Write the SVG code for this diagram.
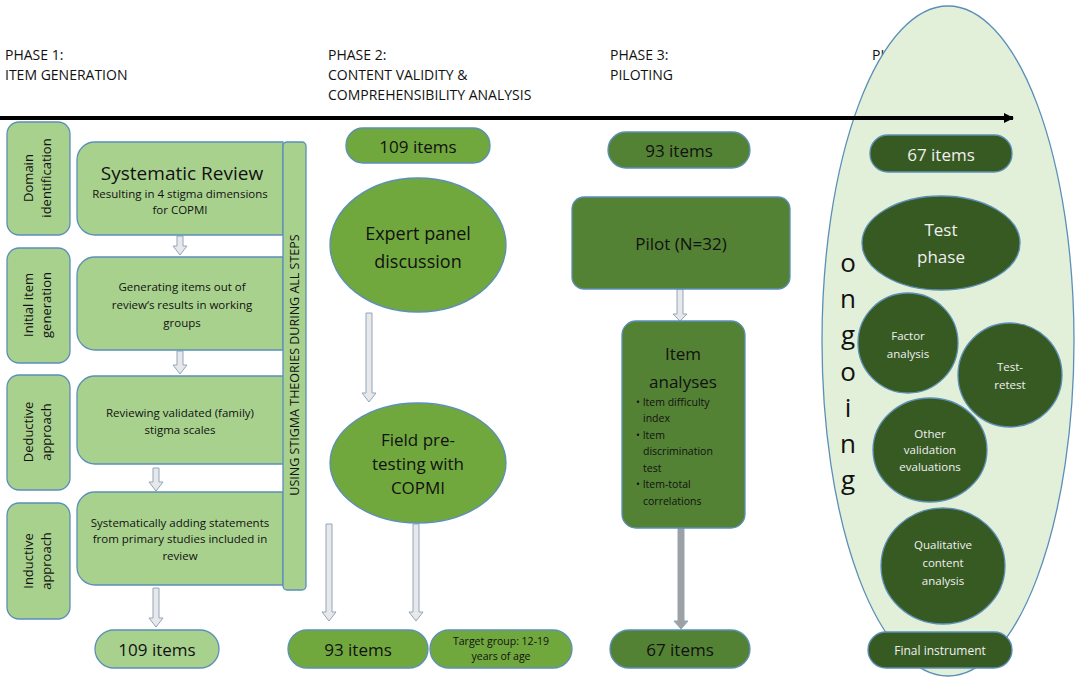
<svg xmlns="http://www.w3.org/2000/svg" width="1084" height="678" viewBox="0 0 1084 678">
<defs>
<marker id="ah" markerWidth="10" markerHeight="10" refX="9" refY="5" orient="auto" markerUnits="userSpaceOnUse"><path d="M0,0 L10,5 L0,10 Z" fill="#000"/></marker>
<marker id="ha" markerWidth="12" markerHeight="8" refX="6" refY="7" orient="auto" markerUnits="userSpaceOnUse"></marker>
</defs>
<style>
text{font-family:"Open Sans","DejaVu Sans",sans-serif;text-anchor:middle}
.ph{font-size:14px;text-anchor:start;fill:#111}
.l1{fill:#a9d18e;stroke:#5b8fb9;stroke-width:1.3}
.m{fill:#70a83e;stroke:#5b8fb9;stroke-width:1.3}
.p{fill:#548235;stroke:#5b8fb9;stroke-width:1.3}
.d{fill:#375a23;stroke:#5b8fb9;stroke-width:1.3}
.t{fill:#111}
.w{fill:#f0f0f0}
.ha{fill:#e8e8e8;stroke:#8ea7c0;stroke-width:1}
</style>
<rect width="1084" height="678" fill="#fff"/>
<text class="ph" x="5" y="60">PHASE 1:</text><text class="ph" x="5" y="80">ITEM GENERATION</text>
<text class="ph" x="328" y="60">PHASE 2:</text><text class="ph" x="328" y="80">CONTENT VALIDITY &amp;</text><text class="ph" x="328" y="100">COMPREHENSIBILITY ANALYSIS</text>
<text class="ph" x="610" y="60">PHASE 3:</text><text class="ph" x="610" y="80">PILOTING</text>
<text class="ph" x="872" y="60">PHASE 4:</text><text class="ph" x="872" y="80">SCALE EVALUATION</text>
<g id="phase4-area"><ellipse cx="948" cy="341" rx="126" ry="335" fill="#e2f0d9" stroke="#5b8fb9" stroke-width="1.3"/></g>
<g id="connectors">
<line x1="0" y1="118" x2="1013" y2="118" stroke="#000" stroke-width="4" marker-end="url(#ah)"/>
<path class="ha" d="M177,236 h6 v10 h4 l-7,9 l-7,-9 h4 Z"/>
<path class="ha" d="M177,351 h6 v14 h4 l-7,9 l-7,-9 h4 Z"/>
<path class="ha" d="M153,468 h6 v14 h4 l-7,9 l-7,-9 h4 Z"/>
<path class="ha" d="M153,588 h6 v30 h4 l-7,9 l-7,-9 h4 Z"/>
<path class="ha" d="M366,313 h6 v80 h4 l-7,9 l-7,-9 h4 Z"/>
<path class="ha" d="M326,524 h6 v88 h4 l-7,9 l-7,-9 h4 Z"/>
<path class="ha" d="M413,524 h6 v88 h4 l-7,9 l-7,-9 h4 Z"/>
<path class="ha" d="M677,289 h6 v25 h4 l-7,7 l-7,-7 h4 Z"/>
<path class="ha" d="M678,528 h6 v93 h4 l-7,8 l-7,-8 h4 Z" style="fill:#a0a0a0"/>
</g>
<g id="labels">
<rect class="l1" x="7" y="122" width="63" height="113" rx="12"/><text class="t" font-size="13" transform="translate(33,178) rotate(-90)">Domain</text><text class="t" font-size="13" transform="translate(51,178) rotate(-90)">identification</text>
<rect class="l1" x="7" y="248" width="63" height="115" rx="12"/><text class="t" font-size="13" transform="translate(33,305) rotate(-90)">Initial item</text><text class="t" font-size="13" transform="translate(51,305) rotate(-90)">generation</text>
<rect class="l1" x="7" y="375" width="63" height="115" rx="12"/><text class="t" font-size="13" transform="translate(33,432) rotate(-90)">Deductive</text><text class="t" font-size="13" transform="translate(51,432) rotate(-90)">approach</text>
<rect class="l1" x="7" y="503" width="63" height="116" rx="12"/><text class="t" font-size="13" transform="translate(33,561) rotate(-90)">Inductive</text><text class="t" font-size="13" transform="translate(51,561) rotate(-90)">approach</text>
</g>
<g id="sysreview"><path class="l1" d="M95,142 H283 V235 H95 A18,18 0 0 1 77,217 V160 A18,18 0 0 1 95,142 Z"/>
<text class="t" x="182" y="180" font-size="19">Systematic Review</text><text class="t" x="180" y="198" font-size="11.5">Resulting in 4 stigma dimensions</text><text class="t" x="180" y="214" font-size="11.5">for COPMI</text></g>
<g id="generating"><path class="l1" d="M95,257 H283 V350 H95 A18,18 0 0 1 77,332 V275 A18,18 0 0 1 95,257 Z"/>
<text class="t" x="182" y="291" font-size="11.5">Generating items out of</text><text class="t" x="182" y="309" font-size="11.5">review‘s results in working</text><text class="t" x="182" y="327" font-size="11.5">groups</text></g>
<g id="reviewing"><path class="l1" d="M85,380 H283 V468 H85 A18,18 0 0 1 67,450 V398 A18,18 0 0 1 85,380 Z" transform="translate(10,-4)"/>
<text class="t" x="180" y="417" font-size="11.5">Reviewing validated (family)</text><text class="t" x="180" y="434" font-size="11.5">stigma scales</text></g>
<g id="systematically"><path class="l1" d="M95,492 H283 V585 H95 A18,18 0 0 1 77,567 V510 A18,18 0 0 1 95,492 Z"/>
<text class="t" x="180" y="527" font-size="11.5">Systematically adding statements</text><text class="t" x="180" y="543" font-size="11.5">from primary studies included in</text><text class="t" x="180" y="560" font-size="11.5">review</text></g>
<g id="theories"><rect class="l1" x="283" y="142" width="23" height="448" rx="4"/><text class="t" font-size="12.5" transform="translate(299,365) rotate(-90)">USING STIGMA THEORIES DURING  ALL STEPS</text></g>
<g id="p1-109"><rect class="l1" x="95" y="630" width="124" height="38" rx="19"/><text class="t" x="157" y="656" font-size="17">109 items</text></g>
<g id="p2-109"><rect class="m" x="346" y="128" width="144" height="35" rx="17"/><text class="t" x="418" y="153" font-size="17">109 items</text></g>
<g id="expert"><ellipse class="m" cx="418" cy="245" rx="88" ry="67"/><text class="t" x="418" y="240" font-size="18">Expert panel</text><text class="t" x="418" y="268" font-size="18">discussion</text></g>
<g id="field"><ellipse class="m" cx="418" cy="463" rx="88" ry="60"/><text class="t" x="418" y="446" font-size="17">Field pre-</text><text class="t" x="418" y="470" font-size="17">testing with</text><text class="t" x="418" y="494" font-size="17">COPMI</text></g>
<g id="p2-93"><rect class="m" x="288" y="630" width="140" height="38" rx="19"/><text class="t" x="358" y="656" font-size="17">93 items</text></g>
<g id="target"><rect class="m" x="430" y="630" width="142" height="38" rx="19"/><text class="t" x="501" y="645" font-size="10.5">Target group: 12-19</text><text class="t" x="501" y="660" font-size="10.5">years of age</text></g>
<g id="p3-93"><rect class="p" x="608" y="132" width="142" height="36" rx="18"/><text class="t" x="679" y="157" font-size="17">93 items</text></g>
<g id="pilot"><rect class="p" x="572" y="197" width="218" height="92" rx="12"/><text class="t" x="681" y="250" font-size="17">Pilot (N=32)</text></g>
<g id="itemanalyses"><rect class="p" x="622" y="321" width="123" height="207" rx="14"/>
<text class="t" x="683" y="360" font-size="17">Item</text><text class="t" x="683" y="388" font-size="17">analyses</text>
<g style="text-anchor:start;font-size:10.5px" class="t"><text x="636" y="406" style="text-anchor:start">• Item difficulty</text><text x="643" y="422" style="text-anchor:start">index</text><text x="636" y="439" style="text-anchor:start">• Item</text><text x="643" y="455" style="text-anchor:start">discrimination</text><text x="643" y="472" style="text-anchor:start">test</text><text x="636" y="488" style="text-anchor:start">• Item-total</text><text x="643" y="505" style="text-anchor:start">correlations</text></g></g>
<g id="p3-67"><rect class="p" x="610" y="630" width="140" height="38" rx="19"/><text class="t" x="680" y="656" font-size="17">67 items</text></g>
<g id="p4-67"><rect class="d" x="870" y="135" width="142" height="37" rx="18"/><text class="w" x="941" y="161" font-size="17">67 items</text></g>
<g id="testphase"><ellipse class="d" cx="941" cy="243" rx="79" ry="47"/><text class="w" x="941" y="236" font-size="17">Test</text><text class="w" x="941" y="263" font-size="17">phase</text></g>
<g id="factor"><circle class="d" cx="908" cy="343" r="50"/><text class="w" x="908" y="340" font-size="11.5">Factor</text><text class="w" x="908" y="358" font-size="11.5">analysis</text></g>
<g id="retest"><circle class="d" cx="1010" cy="375" r="52"/><text class="w" x="1010" y="371" font-size="11.5">Test-</text><text class="w" x="1010" y="389" font-size="11.5">retest</text></g>
<g id="other"><ellipse class="d" cx="930" cy="450" rx="57" ry="52"/><text class="w" x="930" y="438" font-size="11.5">Other</text><text class="w" x="930" y="454" font-size="11.5">validation</text><text class="w" x="930" y="471" font-size="11.5">evaluations</text></g>
<g id="qualitative"><ellipse class="d" cx="943" cy="566" rx="62" ry="58"/><text class="w" x="943" y="549" font-size="11.5">Qualitative</text><text class="w" x="943" y="567" font-size="11.5">content</text><text class="w" x="943" y="585" font-size="11.5">analysis</text></g>
<g id="final"><rect class="d" x="868" y="632" width="144" height="36" rx="18"/><text class="w" x="940" y="655" font-size="12">Final instrument</text></g>
<g id="ongoing" class="t" font-size="26"><text x="848" y="272">o</text><text x="848" y="308">n</text><text x="848" y="344">g</text><text x="848" y="381">o</text><text x="848" y="417">i</text><text x="848" y="453">n</text><text x="848" y="489">g</text></g>
</svg>
